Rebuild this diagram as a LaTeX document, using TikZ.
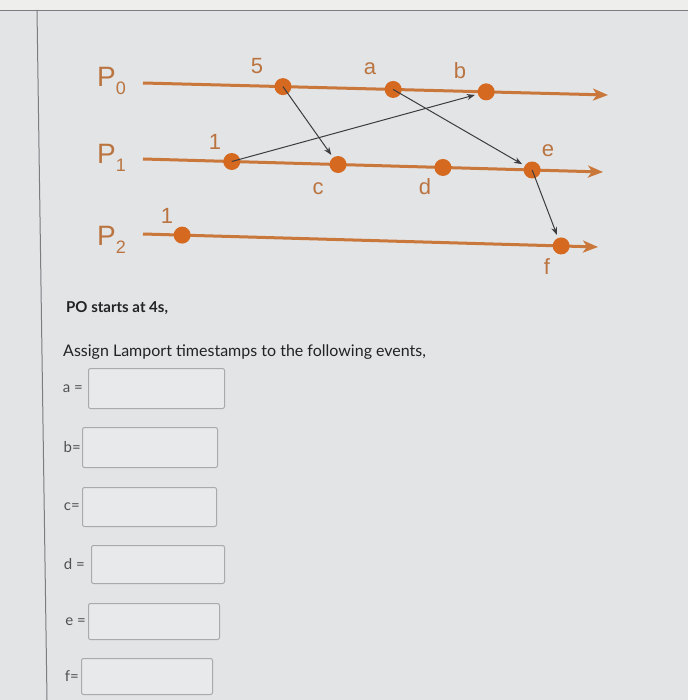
\documentclass[tikz,border=0pt]{standalone}
\usepackage{fontspec}
\setmainfont{Lato}
\newfontfamily\arialfont{Liberation Sans}
\usetikzlibrary{positioning,arrows.meta}

\definecolor{pagebg}{HTML}{E3E4E6}
\definecolor{topbar}{HTML}{EEEEEC}
\definecolor{edgeline}{HTML}{7C7D80}
\definecolor{procorange}{HTML}{C9773A}
\definecolor{dotorange}{HTML}{D4691F}
\definecolor{lblorange}{HTML}{BA7440}
\definecolor{msgcol}{HTML}{3C3C40}
\definecolor{qcol}{HTML}{232325}
\definecolor{anscol}{HTML}{505154}
\definecolor{boxborder}{HTML}{A9AAAC}
\definecolor{boxfill}{HTML}{E8E9EB}

\tikzset{
  procline/.style={line width=3pt, draw=procorange, -{Stealth[length=15pt,width=12pt,inset=4pt]}},
  event/.style={circle, fill=dotorange, inner sep=0pt, minimum size=17pt},
  msg/.style={->, draw=msgcol, line width=1pt, shorten >=3pt},
  plbl/.style={text=lblorange, font=\arialfont\fontsize{28}{30}\selectfont, anchor=base west, inner sep=0pt},
  evlbl/.style={text=lblorange, font=\arialfont\fontsize{22}{24}\selectfont, inner sep=0pt},
  qtext/.style={text=qcol, anchor=base west, inner sep=0pt, font=\fontsize{16}{19}\selectfont},
  answer/.style={draw=boxborder, fill=boxfill, rounded corners=2pt, line width=1pt,
    minimum width=136pt, minimum height=38pt, anchor=north west, inner sep=0pt},
  anslbl/.style={text=anscol, font=\fontsize{15}{18}\selectfont, inner sep=0pt},
}
\newcommand\psub[1]{\raisebox{-8pt}{\fontsize{18}{18}\selectfont #1}}

\begin{document}
\begin{tikzpicture}[
    x = 1pt, y = -1pt, % picture units are pixels, y downwards
    > = {Stealth[length=8pt,width=6pt]}, % message arrow head
  ]
  \useasboundingbox (0,0) rectangle (688,700);
  \fill[pagebg] (0,0) rectangle (688,700);
  \fill[topbar] (0,0) rectangle (688,10);
  \draw[edgeline, line width=0.6pt] (0,10) -- (688,10);
  \draw[edgeline, line width=1pt] (37,10) -- (47,700);

  % process lines
  \coordinate (p0s) at (143,83);  \coordinate (p0e) at (608,95);
  \coordinate (p1s) at (143,159); \coordinate (p1e) at (603,172);
  \coordinate (p2s) at (143,234); \coordinate (p2e) at (598,247);
  \draw[procline] (p0s) -- (p0e);
  \draw[procline] (p1s) -- (p1e);
  \draw[procline] (p2s) -- (p2e);

  \node[plbl] (lp0) at (97,87)  {P\psub{0}};
  \node[plbl] (lp1) at (97,164) {P\psub{1}};
  \node[plbl] (lp2) at (97,246) {P\psub{2}};

  % events
  \path (p0s) -- (p0e)
    node[event, pos=.301] (ev5) {}
    node[event, pos=.538] (eva) {}
    node[event, pos=.738] (evb) {};
  \path (p1s) -- (p1e)
    node[event, pos=.193] (evp1) {}
    node[event, pos=.424] (evc) {}
    node[event, pos=.652] (evd) {}
    node[event, pos=.846] (eve) {};
  \path (p2s) -- (p2e)
    node[event, pos=.086] (evp2) {}
    node[event, pos=.919] (evf) {};

  \node[evlbl] (l5) at (257,66) {5};
  \node[evlbl] (la) at (370,69) {a};
  \node[evlbl] (lb) at (460,71) {b};
  \node[evlbl] (l1a) at (215,142) {1};
  \node[evlbl] (lc) at (318,189) {c};
  \node[evlbl] (ld) at (425,187) {d};
  \node[evlbl] (le) at (548,151) {e};
  \node[evlbl] (l1b) at (167,216) {1};
  \node[evlbl] (lf) at (547,267) {f};

  % messages
  \draw[msg] (ev5.center) -- (evc);
  \draw[msg] (evp1.center) -- (evb);
  \draw[msg] (eva.center) -- (eve);
  \draw[msg] (eve.center) -- (evf);

  % question
  \node[qtext, font=\bfseries\fontsize{15}{18}\selectfont] (q1) at (66,312) {PO starts at 4s,};
  \node[qtext] (q2) at (63,356) {Assign Lamport timestamps to the following events,};

  % answer boxes
  \node[answer, minimum width=136pt, minimum height=40pt] (boxa) at (88,368) {};
  \node[answer, minimum width=135pt, minimum height=40pt] (boxb) at (82,427) {};
  \node[answer, minimum width=134pt, minimum height=39pt] (boxc) at (82,487) {};
  \node[answer, minimum width=133pt, minimum height=38pt] (boxd) at (91,545) {};
  \node[answer, minimum width=131pt, minimum height=36pt] (boxe) at (88,603) {};
  \node[answer, minimum width=131pt, minimum height=36pt] (boxf) at (81,658) {};
  \node[anslbl, left=5pt of boxa] (ansa) {a =};
  \node[anslbl, left=1pt of boxb] (ansb) {b=};
  \node[anslbl, left=2pt of boxc] (ansc) {c=};
  \node[anslbl, left=6pt of boxd] (ansd) {d =};
  \node[anslbl, left=2pt of boxe] (anse) {e =};
  \node[anslbl, left=2pt of boxf] (ansf) {f=};
\end{tikzpicture}
\end{document}
